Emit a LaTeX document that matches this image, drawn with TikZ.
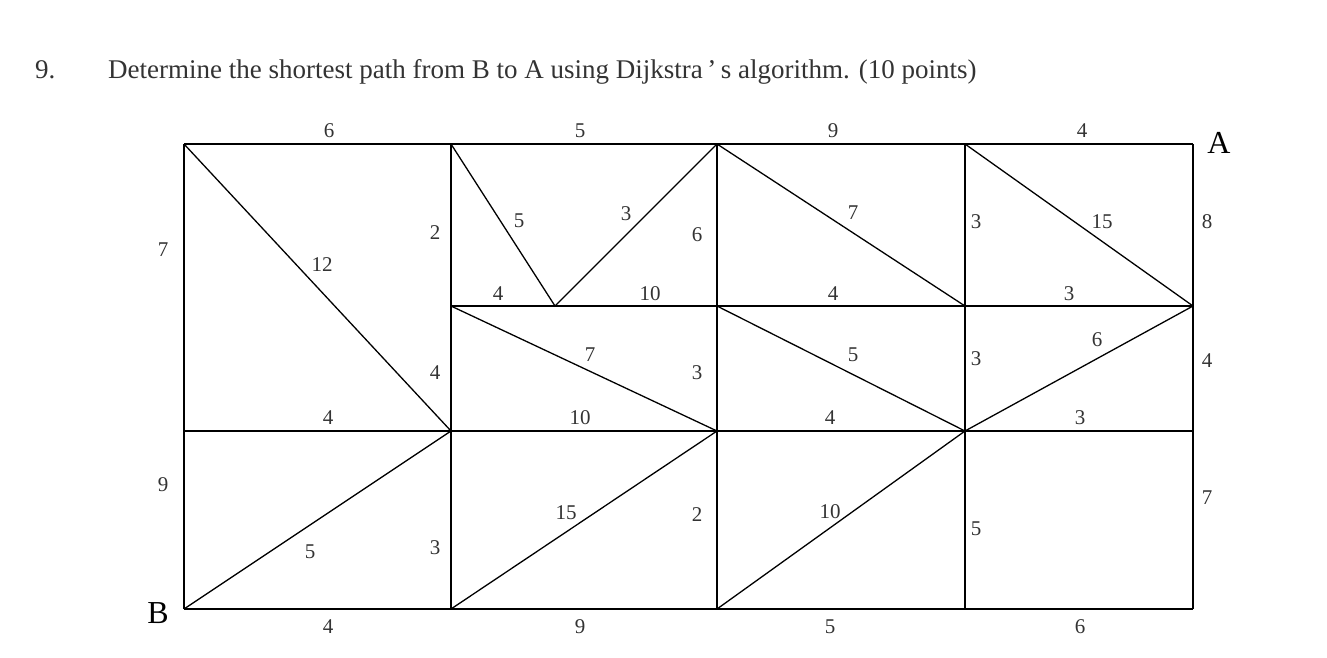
\documentclass[tikz,border=0pt]{standalone}
\usepackage{fontspec}
\setmainfont{Liberation Serif}
\begin{document}
\begin{tikzpicture}[x=1pt,y=-1pt,
  edge/.style={line width=1.3pt,black},
  wt/.style={font=\fontsize{21}{21}\selectfont,text=black!80,inner sep=0pt},
  vlab/.style={font=\fontsize{32}{32}\selectfont,text=black,inner sep=0pt},
  ttl/.style={font=\fontsize{27}{27}\selectfont,text=black!80,inner sep=0pt,anchor=base west}]
\useasboundingbox (0,0) rectangle (1327,657);
% vertices
\coordinate (v11) at (184,144); \coordinate (v12) at (451,144); \coordinate (v13) at (717,144); \coordinate (v14) at (965,144); \coordinate (v15) at (1193,144);
\coordinate (m) at (555,306);
\coordinate (v21) at (451,306); \coordinate (v22) at (717,306); \coordinate (v23) at (965,306); \coordinate (v24) at (1193,306);
\coordinate (v31) at (184,431); \coordinate (v32) at (451,431); \coordinate (v33) at (717,431); \coordinate (v34) at (965,431); \coordinate (v35) at (1193,431);
\coordinate (v41) at (184,609); \coordinate (v42) at (451,609); \coordinate (v43) at (717,609); \coordinate (v44) at (965,609); \coordinate (v45) at (1193,609);
% title
\node[ttl] (num) at (35,78) {9.};
\node[ttl] (title) at (108,78) {Determine the shortest path from B to A using Dijkstra\,ʼ\,s algorithm. (10 points)};
% edges
\draw[edge] (v11) -- (v12) -- (v13) -- (v14) -- (v15);
\draw[edge] (v21) -- (m) -- (v22) -- (v23) -- (v24);
\draw[edge] (v31) -- (v32) -- (v33) -- (v34) -- (v35);
\draw[edge] (v41) -- (v42) -- (v43) -- (v44) -- (v45);
\draw[edge] (v11) -- (v31) -- (v41);
\draw[edge] (v12) -- (v21) -- (v32) -- (v42);
\draw[edge] (v13) -- (v22) -- (v33) -- (v43);
\draw[edge] (v14) -- (v23) -- (v34) -- (v44);
\draw[edge] (v15) -- (v24) -- (v35) -- (v45);
\draw[edge] (v11) -- (v32);
\draw[edge] (v12) -- (m) -- (v13);
\draw[edge] (v13) -- (v23);
\draw[edge] (v14) -- (v24);
\draw[edge] (v21) -- (v33);
\draw[edge] (v22) -- (v34);
\draw[edge] (v34) -- (v24);
\draw[edge] (v41) -- (v32);
\draw[edge] (v42) -- (v33);
\draw[edge] (v43) -- (v34);
% vertex labels
\node[vlab] (la) at (1219,143) {A};
\node[vlab] (lb) at (158,613) {B};
% weights
\node[wt] at (329,131) {6};
\node[wt] at (580,131) {5};
\node[wt] at (833,131) {9};
\node[wt] at (1082,131) {4};
\node[wt] at (163,250) {7};
\node[wt] at (163,485) {9};
\node[wt] at (322,265) {12};
\node[wt] at (435,233) {2};
\node[wt] at (435,373) {4};
\node[wt] at (435,548) {3};
\node[wt] at (519,221) {5};
\node[wt] at (626,214) {3};
\node[wt] at (697,235) {6};
\node[wt] at (498,294) {4};
\node[wt] at (650,294) {10};
\node[wt] at (853,213) {7};
\node[wt] at (833,294) {4};
\node[wt] at (976,222) {3};
\node[wt] at (976,359) {3};
\node[wt] at (976,529) {5};
\node[wt] at (1102,222) {15};
\node[wt] at (1069,294) {3};
\node[wt] at (1207,222) {8};
\node[wt] at (1207,361) {4};
\node[wt] at (1207,498) {7};
\node[wt] at (590,355) {7};
\node[wt] at (697,373) {3};
\node[wt] at (853,355) {5};
\node[wt] at (1097,340) {6};
\node[wt] at (328,418) {4};
\node[wt] at (580,418) {10};
\node[wt] at (830,418) {4};
\node[wt] at (1080,418) {3};
\node[wt] at (310,552) {5};
\node[wt] at (566,513) {15};
\node[wt] at (697,515) {2};
\node[wt] at (830,512) {10};
\node[wt] at (328,627) {4};
\node[wt] at (580,627) {9};
\node[wt] at (830,627) {5};
\node[wt] at (1080,627) {6};
\end{tikzpicture}
\end{document}
